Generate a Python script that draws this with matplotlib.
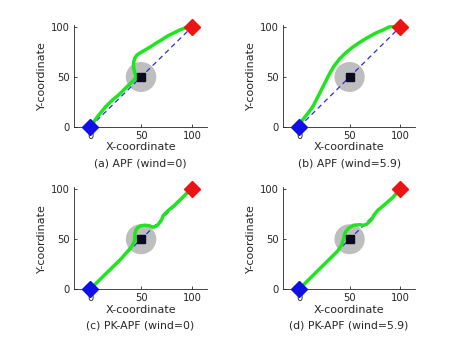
import matplotlib
matplotlib.use('Agg')
import matplotlib.pyplot as plt
from matplotlib.patches import Circle

# data
start = (0, 0)
goal = (100, 100)
obstacle = (50, 50)
obstacle_radius = 15

path_a_x = [0, 7, 15, 22, 28, 35, 41, 44, 45, 44, 43, 42.5, 43, 44, 46, 49, 54, 59, 65, 70, 76, 82, 88, 93, 98, 100]
path_a_y = [0, 10, 20, 27, 32, 39, 45, 48, 51, 54, 58, 62, 66, 69, 72, 74, 77, 80, 84, 87, 91, 94, 97, 99, 100, 100]

path_b_x = [0, 1, 5, 9, 14, 18, 22, 26, 30, 34, 40, 46, 52, 59, 67, 76, 83, 89, 94, 98, 100]
path_b_y = [0, 4, 9, 14, 21, 29, 37, 45, 53, 60, 68, 74, 79, 84, 89, 94, 97, 100, 101, 102, 100]

path_c_x = [0, 10, 20, 30, 37, 41, 43.5, 44, 45, 47, 50, 54, 58, 62, 65, 67, 70, 72, 77, 83, 88, 95, 98, 100]
path_c_y = [0, 10, 20, 30, 38, 43, 48, 55, 59, 62, 63.5, 64, 63.5, 62, 63, 65, 69, 74, 79, 84, 89, 96, 99, 100]

path_d_x = [0, 8, 16, 24, 32, 38, 42, 44, 45, 46.5, 49, 54, 60, 64, 67, 69, 72, 74, 78, 84, 93, 99, 100]
path_d_y = [0, 8, 16, 24, 32, 38, 44, 50, 55, 58, 61, 64, 64.5, 64, 65, 67, 70, 74, 79, 84, 92, 99, 100]

paths = [(path_a_x, path_a_y), (path_b_x, path_b_y), (path_c_x, path_c_y), (path_d_x, path_d_y)]
captions = ['(a) APF (wind=0)', '(b) APF (wind=5.9)', '(c) PK-APF (wind=0)', '(d) PK-APF (wind=5.9)']
ticks = [0, 50, 100]

# axes boxes in figure fractions [left, bottom, width, height]
boxes = [
    [0.156, 0.630, 0.281, 0.297],
    [0.597, 0.630, 0.279, 0.297],
    [0.156, 0.157, 0.281, 0.297],
    [0.597, 0.157, 0.279, 0.297],
]

fig = plt.figure(figsize=(4.74, 3.43), dpi=100)
txt = '#262626'

for box, (px, py), cap in zip(boxes, paths, captions):
    ax = fig.add_axes(box)
    ax.add_patch(Circle(obstacle, obstacle_radius, color='#bebebe', lw=0, zorder=1))
    ax.plot([start[0], goal[0]], [start[1], goal[1]], '--', color='#2b2bdd', lw=0.9,
            dashes=(4, 3), zorder=2)
    ax.plot(px, py, color='#1ee61e', lw=2.5, solid_joinstyle='round',
            solid_capstyle='round', zorder=3)
    ax.plot(*obstacle, 's', color='#0a0a20', ms=5.8, zorder=4)
    ax.plot(*start, 'D', color='#1010e6', ms=8.5, clip_on=False, zorder=5)
    ax.plot(*goal, 'D', color='#eb1414', ms=8.5, clip_on=False, zorder=5)

    ax.set_xlim(-16, 115)
    ax.set_ylim(0, 102)
    ax.set_xticks(ticks)
    ax.set_yticks(ticks)
    ax.tick_params(direction='in', length=2.5, width=0.6, labelsize=7.2, colors=txt, pad=3)
    for s in ['top', 'right']:
        ax.spines[s].set_visible(False)
    for s in ['left', 'bottom']:
        ax.spines[s].set_color(txt)
        ax.spines[s].set_linewidth(0.6)
    ax.set_xlabel('X-coordinate', fontsize=8, color=txt, labelpad=1)
    ax.set_ylabel('Y-coordinate', fontsize=8, color=txt, labelpad=3)
    ax.text(0.5, -0.355, cap, transform=ax.transAxes, ha='center', va='center',
            fontsize=7.8, color=txt)

fig.savefig('out.png', dpi=100)
